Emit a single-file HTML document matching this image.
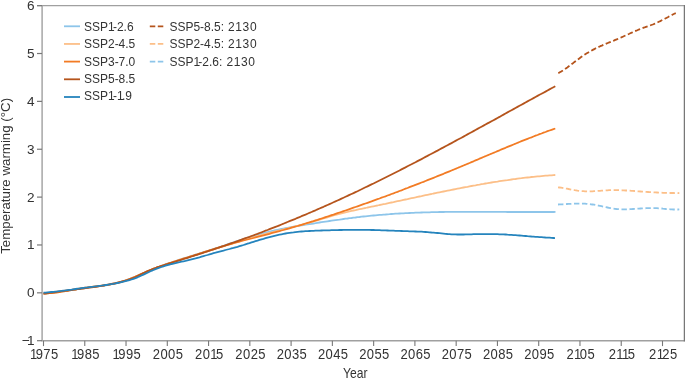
<!DOCTYPE html>
<html><head><meta charset="utf-8"><style>
html,body{margin:0;padding:0;background:#fff;width:685px;height:378px;overflow:hidden}
svg{display:block}
.t{font-family:"Liberation Sans",Arial,sans-serif;font-size:13px;fill:#333333}
.yt{font-family:"Liberation Sans",Arial,sans-serif;font-size:13.6px;fill:#333333}
.a{font-family:"Liberation Sans",Arial,sans-serif;font-size:13.3px;fill:#333333}
.l{font-family:"Liberation Sans",Arial,sans-serif;font-size:12px;fill:#333333}
</style></head><body>
<svg width="685" height="378" viewBox="0 0 685 378">
<path d="M37,5.65H684.5M684.5,340.7H42.1V5.65" fill="none" stroke="#a0a0a0" stroke-width="1.4"/>
<line x1="684.4" x2="684.4" y1="5" y2="341.4" stroke="#777" stroke-width="1.3"/>
<line x1="37" x2="42" y1="340.70" y2="340.70" stroke="#787878" stroke-width="1.2"/>
<text x="34.6" y="345.15" text-anchor="end" class="yt" dx="0 -3">−1</text>
<line x1="37" x2="42" y1="292.83" y2="292.83" stroke="#787878" stroke-width="1.2"/>
<text x="34.6" y="297.28" text-anchor="end" class="yt">0</text>
<line x1="37" x2="42" y1="244.97" y2="244.97" stroke="#787878" stroke-width="1.2"/>
<text x="34.6" y="249.42" text-anchor="end" class="yt">1</text>
<line x1="37" x2="42" y1="197.11" y2="197.11" stroke="#787878" stroke-width="1.2"/>
<text x="34.6" y="201.56" text-anchor="end" class="yt">2</text>
<line x1="37" x2="42" y1="149.24" y2="149.24" stroke="#787878" stroke-width="1.2"/>
<text x="34.6" y="153.69" text-anchor="end" class="yt">3</text>
<line x1="37" x2="42" y1="101.38" y2="101.38" stroke="#787878" stroke-width="1.2"/>
<text x="34.6" y="105.83" text-anchor="end" class="yt">4</text>
<line x1="37" x2="42" y1="53.51" y2="53.51" stroke="#787878" stroke-width="1.2"/>
<text x="34.6" y="57.96" text-anchor="end" class="yt">5</text>
<line x1="37" x2="42" y1="5.65" y2="5.65" stroke="#787878" stroke-width="1.2"/>
<text x="34.6" y="10.10" text-anchor="end" class="yt">6</text>
<line x1="43.50" x2="43.50" y1="340.8" y2="346.1" stroke="#787878" stroke-width="1.1"/>
<text transform="translate(44.10,358.5) scale(1,1.06)" text-anchor="middle" class="t" dx="0 -1.5 0.4 0.4">1975</text>
<line x1="84.77" x2="84.77" y1="340.8" y2="346.1" stroke="#787878" stroke-width="1.1"/>
<text transform="translate(85.37,358.5) scale(1,1.06)" text-anchor="middle" class="t" dx="0 -1.5 0.4 0.4">1985</text>
<line x1="126.03" x2="126.03" y1="340.8" y2="346.1" stroke="#787878" stroke-width="1.1"/>
<text transform="translate(126.63,358.5) scale(1,1.06)" text-anchor="middle" class="t" dx="0 -1.5 0.4 0.4">1995</text>
<line x1="167.30" x2="167.30" y1="340.8" y2="346.1" stroke="#787878" stroke-width="1.1"/>
<text transform="translate(167.90,358.5) scale(1,1.06)" text-anchor="middle" class="t" dx="0 0.4 0.4 0.4">2005</text>
<line x1="208.57" x2="208.57" y1="340.8" y2="346.1" stroke="#787878" stroke-width="1.1"/>
<text transform="translate(209.17,358.5) scale(1,1.06)" text-anchor="middle" class="t" dx="0 0.4 0.4 -1.5">2015</text>
<line x1="249.83" x2="249.83" y1="340.8" y2="346.1" stroke="#787878" stroke-width="1.1"/>
<text transform="translate(250.43,358.5) scale(1,1.06)" text-anchor="middle" class="t" dx="0 0.4 0.4 0.4">2025</text>
<line x1="291.10" x2="291.10" y1="340.8" y2="346.1" stroke="#787878" stroke-width="1.1"/>
<text transform="translate(291.70,358.5) scale(1,1.06)" text-anchor="middle" class="t" dx="0 0.4 0.4 0.4">2035</text>
<line x1="332.37" x2="332.37" y1="340.8" y2="346.1" stroke="#787878" stroke-width="1.1"/>
<text transform="translate(332.97,358.5) scale(1,1.06)" text-anchor="middle" class="t" dx="0 0.4 0.4 0.4">2045</text>
<line x1="373.64" x2="373.64" y1="340.8" y2="346.1" stroke="#787878" stroke-width="1.1"/>
<text transform="translate(374.24,358.5) scale(1,1.06)" text-anchor="middle" class="t" dx="0 0.4 0.4 0.4">2055</text>
<line x1="414.90" x2="414.90" y1="340.8" y2="346.1" stroke="#787878" stroke-width="1.1"/>
<text transform="translate(415.50,358.5) scale(1,1.06)" text-anchor="middle" class="t" dx="0 0.4 0.4 0.4">2065</text>
<line x1="456.17" x2="456.17" y1="340.8" y2="346.1" stroke="#787878" stroke-width="1.1"/>
<text transform="translate(456.77,358.5) scale(1,1.06)" text-anchor="middle" class="t" dx="0 0.4 0.4 0.4">2075</text>
<line x1="497.44" x2="497.44" y1="340.8" y2="346.1" stroke="#787878" stroke-width="1.1"/>
<text transform="translate(498.04,358.5) scale(1,1.06)" text-anchor="middle" class="t" dx="0 0.4 0.4 0.4">2085</text>
<line x1="538.70" x2="538.70" y1="340.8" y2="346.1" stroke="#787878" stroke-width="1.1"/>
<text transform="translate(539.30,358.5) scale(1,1.06)" text-anchor="middle" class="t" dx="0 0.4 0.4 0.4">2095</text>
<line x1="579.97" x2="579.97" y1="340.8" y2="346.1" stroke="#787878" stroke-width="1.1"/>
<text transform="translate(580.57,358.5) scale(1,1.06)" text-anchor="middle" class="t" dx="0 0.4 -1.5 0.4">2105</text>
<line x1="621.24" x2="621.24" y1="340.8" y2="346.1" stroke="#787878" stroke-width="1.1"/>
<text transform="translate(621.84,358.5) scale(1,1.06)" text-anchor="middle" class="t" dx="0 0.4 -0.455 -1.5">2115</text>
<line x1="662.50" x2="662.50" y1="340.8" y2="346.1" stroke="#787878" stroke-width="1.1"/>
<text transform="translate(663.10,358.5) scale(1,1.06)" text-anchor="middle" class="t" dx="0 0.4 -1.5 0.4">2125</text>
<text transform="translate(355.3,378.1) scale(1,1.08)" text-anchor="middle" class="a" textLength="24.5" lengthAdjust="spacingAndGlyphs">Year</text>
<text transform="translate(9.9,175.9) rotate(-90)" text-anchor="middle" class="a" textLength="155.9" lengthAdjust="spacingAndGlyphs">Temperature warming (°C)</text>
<polyline points="43.5,293.6 45.5,293.5 47.5,293.3 49.5,293.1 51.5,292.8 53.5,292.6 55.5,292.4 57.5,292.1 59.5,291.8 61.5,291.5 63.5,291.2 65.5,290.9 67.5,290.6 69.5,290.3 71.5,290.0 73.5,289.7 75.5,289.4 77.5,289.1 79.5,288.8 81.5,288.5 83.5,288.2 85.5,287.9 87.5,287.7 89.5,287.4 91.5,287.2 93.5,286.9 95.5,286.7 97.5,286.4 99.5,286.2 101.5,285.9 103.5,285.6 105.5,285.3 107.5,285.0 109.5,284.6 111.5,284.2 113.5,283.8 115.5,283.4 117.5,282.9 119.5,282.3 121.5,281.7 123.5,281.1 125.5,280.4 127.5,279.7 129.5,279.0 131.5,278.2 133.5,277.4 135.5,276.6 137.5,275.7 139.5,274.9 141.5,274.0 143.5,273.2 145.5,272.3 147.5,271.5 149.5,270.6 151.5,269.8 153.5,269.0 155.5,268.2 157.5,267.4 159.5,266.6 161.5,265.9 163.5,265.1 165.5,264.4 167.5,263.7 169.5,263.0 171.5,262.3 173.5,261.7 175.5,261.0 177.5,260.4 179.5,259.7 181.5,259.1 183.5,258.4 185.5,257.8 187.5,257.2 189.5,256.6 191.5,255.9 193.5,255.3 195.5,254.7 197.5,254.1 199.5,253.5 201.5,252.9 203.5,252.2 205.5,251.6 207.5,251.0 209.5,250.4 211.5,249.7 213.5,249.1 215.5,248.4 217.5,247.8 219.5,247.1 221.5,246.4 223.5,245.8 225.5,245.1 227.5,244.4 229.5,243.7 231.5,243.0 233.5,242.4 235.5,241.7 237.5,241.0 239.5,240.3 241.5,239.7 243.5,239.0 245.5,238.4 247.5,237.7 249.5,237.1 251.5,236.5 253.5,235.9 255.5,235.3 257.5,234.7 259.5,234.2 261.5,233.6 263.5,233.1 265.5,232.6 267.5,232.1 269.5,231.6 271.5,231.1 273.5,230.7 275.5,230.2 277.5,229.8 279.5,229.4 281.5,229.0 283.5,228.6 285.5,228.2 287.5,227.8 289.5,227.5 291.5,227.1 293.5,226.7 295.5,226.4 297.5,226.1 299.5,225.7 301.5,225.4 303.5,225.1 305.5,224.7 307.5,224.4 309.5,224.1 311.5,223.8 313.5,223.5 315.5,223.2 317.5,222.8 319.5,222.5 321.5,222.2 323.5,221.9 325.5,221.6 327.5,221.3 329.5,221.0 331.5,220.7 333.5,220.4 335.5,220.1 337.5,219.8 339.5,219.6 341.5,219.3 343.5,219.0 345.5,218.7 347.5,218.5 349.5,218.2 351.5,218.0 353.5,217.7 355.5,217.5 357.5,217.2 359.5,217.0 361.5,216.7 363.5,216.5 365.5,216.3 367.5,216.1 369.5,215.9 371.5,215.7 373.5,215.5 375.5,215.3 377.5,215.1 379.5,214.9 381.5,214.8 383.5,214.6 385.5,214.5 387.5,214.3 389.5,214.2 391.5,214.0 393.5,213.9 395.5,213.7 397.5,213.6 399.5,213.5 401.5,213.4 403.5,213.3 405.5,213.2 407.5,213.1 409.5,213.0 411.5,212.9 413.5,212.8 415.5,212.7 417.5,212.6 419.5,212.6 421.5,212.5 423.5,212.4 425.5,212.4 427.5,212.3 429.5,212.3 431.5,212.2 433.5,212.2 435.5,212.1 437.5,212.1 439.5,212.0 441.5,212.0 443.5,212.0 445.5,211.9 447.5,211.9 449.5,211.9 451.5,211.9 453.5,211.9 455.5,211.8 457.5,211.8 459.5,211.8 461.5,211.8 463.5,211.8 465.5,211.8 467.5,211.8 469.5,211.8 471.5,211.8 473.5,211.8 475.5,211.8 477.5,211.8 479.5,211.8 481.5,211.8 483.5,211.8 485.5,211.8 487.5,211.8 489.5,211.8 491.5,211.9 493.5,211.9 495.5,211.9 497.5,211.9 499.5,211.9 501.5,211.9 503.5,211.9 505.5,211.9 507.5,212.0 509.5,212.0 511.5,212.0 513.5,212.0 515.5,212.0 517.5,212.0 519.5,212.0 521.5,212.0 523.5,212.0 525.5,212.0 527.5,212.0 529.5,212.0 531.5,212.0 533.5,212.0 535.5,212.0 537.5,212.0 539.5,212.0 541.5,212.0 543.5,212.0 545.5,212.0 547.5,212.0 549.5,212.0 551.5,212.0 553.5,212.0 555.5,211.9" fill="none" stroke="#8dc5ea" stroke-width="1.8" stroke-linejoin="round"/>
<polyline points="43.5,293.6 45.5,293.5 47.5,293.4 49.5,293.2 51.5,293.0 53.5,292.8 55.5,292.6 57.5,292.3 59.5,292.0 61.5,291.7 63.5,291.4 65.5,291.1 67.5,290.7 69.5,290.4 71.5,290.1 73.5,289.7 75.5,289.4 77.5,289.0 79.5,288.7 81.5,288.4 83.5,288.0 85.5,287.8 87.5,287.5 89.5,287.2 91.5,287.0 93.5,286.7 95.5,286.5 97.5,286.3 99.5,286.0 101.5,285.8 103.5,285.5 105.5,285.2 107.5,284.9 109.5,284.6 111.5,284.2 113.5,283.8 115.5,283.4 117.5,282.9 119.5,282.4 121.5,281.8 123.5,281.2 125.5,280.5 127.5,279.8 129.5,279.0 131.5,278.2 133.5,277.4 135.5,276.6 137.5,275.8 139.5,274.9 141.5,274.0 143.5,273.2 145.5,272.3 147.5,271.4 149.5,270.6 151.5,269.8 153.5,268.9 155.5,268.2 157.5,267.4 159.5,266.7 161.5,265.9 163.5,265.2 165.5,264.5 167.5,263.8 169.5,263.1 171.5,262.5 173.5,261.8 175.5,261.2 177.5,260.5 179.5,259.9 181.5,259.2 183.5,258.6 185.5,258.0 187.5,257.3 189.5,256.7 191.5,256.1 193.5,255.5 195.5,254.9 197.5,254.3 199.5,253.6 201.5,253.0 203.5,252.4 205.5,251.8 207.5,251.2 209.5,250.6 211.5,250.0 213.5,249.4 215.5,248.8 217.5,248.1 219.5,247.5 221.5,246.9 223.5,246.3 225.5,245.6 227.5,245.0 229.5,244.4 231.5,243.8 233.5,243.1 235.5,242.5 237.5,241.9 239.5,241.3 241.5,240.7 243.5,240.1 245.5,239.5 247.5,238.9 249.5,238.3 251.5,237.7 253.5,237.1 255.5,236.6 257.5,236.0 259.5,235.5 261.5,234.9 263.5,234.4 265.5,233.9 267.5,233.3 269.5,232.8 271.5,232.3 273.5,231.8 275.5,231.3 277.5,230.8 279.5,230.3 281.5,229.9 283.5,229.4 285.5,228.9 287.5,228.4 289.5,227.9 291.5,227.4 293.5,226.9 295.5,226.4 297.5,225.9 299.5,225.4 301.5,224.8 303.5,224.3 305.5,223.8 307.5,223.2 309.5,222.7 311.5,222.1 313.5,221.5 315.5,220.9 317.5,220.3 319.5,219.7 321.5,219.1 323.5,218.5 325.5,217.9 327.5,217.3 329.5,216.7 331.5,216.1 333.5,215.5 335.5,215.0 337.5,214.4 339.5,213.9 341.5,213.3 343.5,212.8 345.5,212.3 347.5,211.9 349.5,211.4 351.5,210.9 353.5,210.5 355.5,210.1 357.5,209.6 359.5,209.2 361.5,208.8 363.5,208.4 365.5,208.0 367.5,207.5 369.5,207.1 371.5,206.7 373.5,206.3 375.5,205.9 377.5,205.5 379.5,205.0 381.5,204.6 383.5,204.2 385.5,203.8 387.5,203.3 389.5,202.9 391.5,202.5 393.5,202.1 395.5,201.6 397.5,201.2 399.5,200.8 401.5,200.4 403.5,199.9 405.5,199.5 407.5,199.1 409.5,198.6 411.5,198.2 413.5,197.8 415.5,197.4 417.5,196.9 419.5,196.5 421.5,196.1 423.5,195.6 425.5,195.2 427.5,194.8 429.5,194.4 431.5,194.0 433.5,193.5 435.5,193.1 437.5,192.7 439.5,192.3 441.5,191.9 443.5,191.5 445.5,191.1 447.5,190.7 449.5,190.3 451.5,189.9 453.5,189.5 455.5,189.1 457.5,188.7 459.5,188.3 461.5,187.9 463.5,187.5 465.5,187.1 467.5,186.8 469.5,186.4 471.5,186.0 473.5,185.6 475.5,185.3 477.5,184.9 479.5,184.6 481.5,184.2 483.5,183.9 485.5,183.5 487.5,183.2 489.5,182.8 491.5,182.5 493.5,182.2 495.5,181.9 497.5,181.6 499.5,181.2 501.5,180.9 503.5,180.6 505.5,180.3 507.5,180.1 509.5,179.8 511.5,179.5 513.5,179.2 515.5,179.0 517.5,178.7 519.5,178.4 521.5,178.2 523.5,177.9 525.5,177.7 527.5,177.5 529.5,177.3 531.5,177.0 533.5,176.8 535.5,176.6 537.5,176.4 539.5,176.3 541.5,176.1 543.5,175.9 545.5,175.7 547.5,175.6 549.5,175.4 551.5,175.3 553.5,175.1 555.3,175.0" fill="none" stroke="#fcbf88" stroke-width="1.8" stroke-linejoin="round"/>
<polyline points="43.5,293.6 45.5,293.5 47.5,293.4 49.5,293.2 51.5,293.1 53.5,292.8 55.5,292.6 57.5,292.3 59.5,292.1 61.5,291.7 63.5,291.4 65.5,291.1 67.5,290.8 69.5,290.4 71.5,290.1 73.5,289.7 75.5,289.4 77.5,289.0 79.5,288.7 81.5,288.4 83.5,288.0 85.5,287.7 87.5,287.5 89.5,287.2 91.5,286.9 93.5,286.7 95.5,286.5 97.5,286.2 99.5,286.0 101.5,285.7 103.5,285.5 105.5,285.2 107.5,284.9 109.5,284.6 111.5,284.2 113.5,283.8 115.5,283.4 117.5,282.9 119.5,282.4 121.5,281.8 123.5,281.2 125.5,280.5 127.5,279.8 129.5,279.1 131.5,278.3 133.5,277.5 135.5,276.6 137.5,275.7 139.5,274.8 141.5,273.9 143.5,273.1 145.5,272.2 147.5,271.3 149.5,270.5 151.5,269.7 153.5,268.9 155.5,268.2 157.5,267.4 159.5,266.7 161.5,266.0 163.5,265.3 165.5,264.6 167.5,263.9 169.5,263.2 171.5,262.6 173.5,261.9 175.5,261.3 177.5,260.6 179.5,260.0 181.5,259.4 183.5,258.7 185.5,258.1 187.5,257.5 189.5,256.8 191.5,256.2 193.5,255.6 195.5,254.9 197.5,254.3 199.5,253.6 201.5,253.0 203.5,252.4 205.5,251.7 207.5,251.1 209.5,250.4 211.5,249.8 213.5,249.2 215.5,248.5 217.5,247.9 219.5,247.3 221.5,246.7 223.5,246.1 225.5,245.5 227.5,244.9 229.5,244.3 231.5,243.8 233.5,243.2 235.5,242.6 237.5,242.1 239.5,241.6 241.5,241.0 243.5,240.5 245.5,240.0 247.5,239.5 249.5,239.0 251.5,238.5 253.5,238.0 255.5,237.4 257.5,236.9 259.5,236.4 261.5,235.9 263.5,235.4 265.5,234.8 267.5,234.3 269.5,233.8 271.5,233.2 273.5,232.7 275.5,232.2 277.5,231.6 279.5,231.1 281.5,230.5 283.5,230.0 285.5,229.4 287.5,228.8 289.5,228.3 291.5,227.7 293.5,227.1 295.5,226.5 297.5,226.0 299.5,225.4 301.5,224.8 303.5,224.2 305.5,223.5 307.5,222.9 309.5,222.3 311.5,221.7 313.5,221.1 315.5,220.4 317.5,219.8 319.5,219.1 321.5,218.5 323.5,217.9 325.5,217.2 327.5,216.5 329.5,215.9 331.5,215.2 333.5,214.6 335.5,213.9 337.5,213.2 339.5,212.5 341.5,211.9 343.5,211.2 345.5,210.5 347.5,209.8 349.5,209.1 351.5,208.4 353.5,207.7 355.5,207.0 357.5,206.3 359.5,205.6 361.5,204.9 363.5,204.2 365.5,203.5 367.5,202.8 369.5,202.1 371.5,201.4 373.5,200.6 375.5,199.9 377.5,199.2 379.5,198.5 381.5,197.7 383.5,197.0 385.5,196.3 387.5,195.5 389.5,194.8 391.5,194.0 393.5,193.3 395.5,192.5 397.5,191.8 399.5,191.0 401.5,190.3 403.5,189.5 405.5,188.7 407.5,188.0 409.5,187.2 411.5,186.4 413.5,185.7 415.5,184.9 417.5,184.1 419.5,183.3 421.5,182.5 423.5,181.8 425.5,181.0 427.5,180.2 429.5,179.4 431.5,178.6 433.5,177.8 435.5,177.0 437.5,176.2 439.5,175.4 441.5,174.6 443.5,173.8 445.5,172.9 447.5,172.1 449.5,171.3 451.5,170.5 453.5,169.7 455.5,168.8 457.5,168.0 459.5,167.2 461.5,166.3 463.5,165.5 465.5,164.7 467.5,163.8 469.5,163.0 471.5,162.1 473.5,161.3 475.5,160.4 477.5,159.6 479.5,158.7 481.5,157.9 483.5,157.0 485.5,156.2 487.5,155.3 489.5,154.5 491.5,153.7 493.5,152.8 495.5,152.0 497.5,151.1 499.5,150.3 501.5,149.4 503.5,148.6 505.5,147.8 507.5,146.9 509.5,146.1 511.5,145.3 513.5,144.5 515.5,143.7 517.5,142.8 519.5,142.0 521.5,141.2 523.5,140.4 525.5,139.6 527.5,138.8 529.5,138.0 531.5,137.3 533.5,136.5 535.5,135.7 537.5,135.0 539.5,134.2 541.5,133.5 543.5,132.7 545.5,132.0 547.5,131.2 549.5,130.5 551.5,129.8 553.5,129.1 555.3,128.5" fill="none" stroke="#f27b24" stroke-width="1.8" stroke-linejoin="round"/>
<polyline points="43.5,293.7 45.5,293.4 47.5,293.1 49.5,292.8 51.5,292.5 53.5,292.3 55.5,292.0 57.5,291.7 59.5,291.5 61.5,291.2 63.5,291.0 65.5,290.7 67.5,290.5 69.5,290.2 71.5,290.0 73.5,289.7 75.5,289.5 77.5,289.2 79.5,289.0 81.5,288.7 83.5,288.5 85.5,288.2 87.5,287.9 89.5,287.7 91.5,287.4 93.5,287.1 95.5,286.8 97.5,286.5 99.5,286.1 101.5,285.8 103.5,285.5 105.5,285.1 107.5,284.7 109.5,284.3 111.5,283.9 113.5,283.5 115.5,283.1 117.5,282.6 119.5,282.1 121.5,281.6 123.5,281.1 125.5,280.6 127.5,280.0 129.5,279.3 131.5,278.6 133.5,277.8 135.5,277.0 137.5,276.0 139.5,275.0 141.5,274.0 143.5,273.0 145.5,272.1 147.5,271.1 149.5,270.3 151.5,269.5 153.5,268.7 155.5,268.0 157.5,267.2 159.5,266.6 161.5,265.9 163.5,265.3 165.5,264.6 167.5,264.0 169.5,263.4 171.5,262.8 173.5,262.2 175.5,261.5 177.5,260.9 179.5,260.3 181.5,259.7 183.5,259.0 185.5,258.4 187.5,257.8 189.5,257.1 191.5,256.5 193.5,255.9 195.5,255.2 197.5,254.6 199.5,253.9 201.5,253.3 203.5,252.6 205.5,252.0 207.5,251.3 209.5,250.7 211.5,250.0 213.5,249.4 215.5,248.7 217.5,248.0 219.5,247.3 221.5,246.7 223.5,246.0 225.5,245.3 227.5,244.6 229.5,243.9 231.5,243.2 233.5,242.5 235.5,241.8 237.5,241.1 239.5,240.4 241.5,239.7 243.5,238.9 245.5,238.2 247.5,237.5 249.5,236.8 251.5,236.0 253.5,235.3 255.5,234.5 257.5,233.8 259.5,233.0 261.5,232.3 263.5,231.5 265.5,230.7 267.5,230.0 269.5,229.2 271.5,228.4 273.5,227.6 275.5,226.8 277.5,226.1 279.5,225.3 281.5,224.5 283.5,223.7 285.5,222.8 287.5,222.0 289.5,221.2 291.5,220.4 293.5,219.6 295.5,218.8 297.5,217.9 299.5,217.1 301.5,216.2 303.5,215.4 305.5,214.6 307.5,213.7 309.5,212.8 311.5,212.0 313.5,211.1 315.5,210.3 317.5,209.4 319.5,208.5 321.5,207.6 323.5,206.8 325.5,205.9 327.5,205.0 329.5,204.1 331.5,203.2 333.5,202.3 335.5,201.4 337.5,200.5 339.5,199.6 341.5,198.6 343.5,197.7 345.5,196.8 347.5,195.9 349.5,194.9 351.5,194.0 353.5,193.1 355.5,192.1 357.5,191.2 359.5,190.2 361.5,189.3 363.5,188.3 365.5,187.3 367.5,186.4 369.5,185.4 371.5,184.4 373.5,183.5 375.5,182.5 377.5,181.5 379.5,180.5 381.5,179.5 383.5,178.5 385.5,177.5 387.5,176.5 389.5,175.5 391.5,174.5 393.5,173.5 395.5,172.5 397.5,171.5 399.5,170.5 401.5,169.4 403.5,168.4 405.5,167.4 407.5,166.3 409.5,165.3 411.5,164.3 413.5,163.2 415.5,162.2 417.5,161.1 419.5,160.1 421.5,159.1 423.5,158.0 425.5,156.9 427.5,155.9 429.5,154.8 431.5,153.8 433.5,152.7 435.5,151.6 437.5,150.6 439.5,149.5 441.5,148.4 443.5,147.4 445.5,146.3 447.5,145.2 449.5,144.1 451.5,143.1 453.5,142.0 455.5,140.9 457.5,139.8 459.5,138.7 461.5,137.7 463.5,136.6 465.5,135.5 467.5,134.4 469.5,133.3 471.5,132.2 473.5,131.1 475.5,130.0 477.5,128.9 479.5,127.8 481.5,126.7 483.5,125.6 485.5,124.5 487.5,123.4 489.5,122.4 491.5,121.3 493.5,120.2 495.5,119.1 497.5,118.0 499.5,116.9 501.5,115.7 503.5,114.6 505.5,113.5 507.5,112.4 509.5,111.3 511.5,110.2 513.5,109.1 515.5,108.0 517.5,106.9 519.5,105.8 521.5,104.7 523.5,103.6 525.5,102.5 527.5,101.4 529.5,100.3 531.5,99.2 533.5,98.1 535.5,97.0 537.5,95.9 539.5,94.8 541.5,93.8 543.5,92.7 545.5,91.6 547.5,90.5 549.5,89.4 551.5,88.3 553.5,87.2 555.3,86.2" fill="none" stroke="#b5541c" stroke-width="1.8" stroke-linejoin="round"/>
<polyline points="43.5,292.7 45.5,292.6 47.5,292.4 49.5,292.2 51.5,292.0 53.5,291.8 55.5,291.6 57.5,291.4 59.5,291.1 61.5,290.9 63.5,290.6 65.5,290.4 67.5,290.1 69.5,289.8 71.5,289.6 73.5,289.3 75.5,289.0 77.5,288.7 79.5,288.5 81.5,288.2 83.5,287.9 85.5,287.6 87.5,287.4 89.5,287.1 91.5,286.8 93.5,286.6 95.5,286.3 97.5,286.1 99.5,285.8 101.5,285.6 103.5,285.3 105.5,285.0 107.5,284.8 109.5,284.4 111.5,284.1 113.5,283.8 115.5,283.4 117.5,283.0 119.5,282.6 121.5,282.1 123.5,281.7 125.5,281.2 127.5,280.7 129.5,280.1 131.5,279.5 133.5,278.8 135.5,278.1 137.5,277.3 139.5,276.4 141.5,275.5 143.5,274.6 145.5,273.6 147.5,272.7 149.5,271.7 151.5,270.8 153.5,270.0 155.5,269.1 157.5,268.4 159.5,267.6 161.5,267.0 163.5,266.3 165.5,265.7 167.5,265.1 169.5,264.6 171.5,264.0 173.5,263.6 175.5,263.1 177.5,262.6 179.5,262.2 181.5,261.7 183.5,261.3 185.5,260.9 187.5,260.4 189.5,259.9 191.5,259.4 193.5,258.9 195.5,258.4 197.5,257.8 199.5,257.3 201.5,256.7 203.5,256.1 205.5,255.5 207.5,255.0 209.5,254.4 211.5,253.8 213.5,253.2 215.5,252.7 217.5,252.1 219.5,251.6 221.5,251.1 223.5,250.6 225.5,250.0 227.5,249.5 229.5,249.0 231.5,248.4 233.5,247.9 235.5,247.3 237.5,246.8 239.5,246.2 241.5,245.6 243.5,245.0 245.5,244.3 247.5,243.7 249.5,243.1 251.5,242.4 253.5,241.8 255.5,241.2 257.5,240.6 259.5,239.9 261.5,239.3 263.5,238.8 265.5,238.2 267.5,237.6 269.5,237.1 271.5,236.6 273.5,236.1 275.5,235.6 277.5,235.1 279.5,234.7 281.5,234.3 283.5,233.9 285.5,233.5 287.5,233.2 289.5,232.9 291.5,232.6 293.5,232.4 295.5,232.1 297.5,231.9 299.5,231.7 301.5,231.5 303.5,231.4 305.5,231.2 307.5,231.1 309.5,231.0 311.5,230.9 313.5,230.8 315.5,230.7 317.5,230.6 319.5,230.6 321.5,230.5 323.5,230.4 325.5,230.4 327.5,230.3 329.5,230.3 331.5,230.2 333.5,230.2 335.5,230.1 337.5,230.1 339.5,230.0 341.5,230.0 343.5,229.9 345.5,229.9 347.5,229.9 349.5,229.9 351.5,229.8 353.5,229.8 355.5,229.8 357.5,229.8 359.5,229.8 361.5,229.8 363.5,229.8 365.5,229.9 367.5,229.9 369.5,229.9 371.5,230.0 373.5,230.0 375.5,230.1 377.5,230.1 379.5,230.2 381.5,230.3 383.5,230.3 385.5,230.4 387.5,230.5 389.5,230.6 391.5,230.6 393.5,230.7 395.5,230.8 397.5,230.9 399.5,230.9 401.5,231.0 403.5,231.1 405.5,231.1 407.5,231.2 409.5,231.3 411.5,231.3 413.5,231.4 415.5,231.5 417.5,231.6 419.5,231.6 421.5,231.7 423.5,231.9 425.5,232.0 427.5,232.1 429.5,232.3 431.5,232.5 433.5,232.6 435.5,232.8 437.5,233.0 439.5,233.2 441.5,233.4 443.5,233.6 445.5,233.8 447.5,234.0 449.5,234.1 451.5,234.3 453.5,234.4 455.5,234.4 457.5,234.5 459.5,234.5 461.5,234.5 463.5,234.5 465.5,234.4 467.5,234.4 469.5,234.3 471.5,234.3 473.5,234.2 475.5,234.2 477.5,234.2 479.5,234.1 481.5,234.1 483.5,234.1 485.5,234.1 487.5,234.1 489.5,234.1 491.5,234.1 493.5,234.1 495.5,234.1 497.5,234.2 499.5,234.3 501.5,234.3 503.5,234.4 505.5,234.5 507.5,234.7 509.5,234.8 511.5,234.9 513.5,235.1 515.5,235.2 517.5,235.4 519.5,235.5 521.5,235.7 523.5,235.9 525.5,236.0 527.5,236.2 529.5,236.3 531.5,236.5 533.5,236.6 535.5,236.8 537.5,236.9 539.5,237.1 541.5,237.2 543.5,237.3 545.5,237.5 547.5,237.6 549.5,237.7 551.5,237.9 553.5,238.0 555.0,238.1" fill="none" stroke="#2584bd" stroke-width="1.8" stroke-linejoin="round"/>
<polyline points="558.3,73.2 559.8,72.3 561.3,71.4 562.8,70.5 564.3,69.5 565.8,68.4 567.3,67.4 568.8,66.3 570.3,65.1 571.8,64.0 573.3,62.9 574.8,61.7 576.3,60.6 577.8,59.5 579.3,58.4 580.8,57.3 582.3,56.2 583.8,55.2 585.3,54.2 586.8,53.3 588.3,52.4 589.8,51.5 591.3,50.7 592.8,49.9 594.3,49.1 595.8,48.3 597.3,47.6 598.8,46.9 600.3,46.2 601.8,45.6 603.3,44.9 604.8,44.3 606.3,43.6 607.8,43.0 609.3,42.4 610.8,41.8 612.3,41.2 613.8,40.6 615.3,39.9 616.8,39.3 618.3,38.7 619.8,38.0 621.3,37.4 622.8,36.7 624.3,36.0 625.8,35.3 627.3,34.6 628.8,34.0 630.3,33.3 631.8,32.6 633.3,32.0 634.8,31.3 636.3,30.7 637.8,30.0 639.3,29.4 640.8,28.8 642.3,28.3 643.8,27.7 645.3,27.2 646.8,26.6 648.3,26.1 649.8,25.6 651.3,25.0 652.8,24.5 654.3,23.9 655.8,23.2 657.3,22.6 658.8,21.8 660.3,21.1 661.8,20.3 663.3,19.6 664.8,18.8 666.3,18.0 667.8,17.2 669.3,16.3 670.8,15.6 672.3,14.8 673.8,14.0 675.3,13.3 675.8,13.1" fill="none" stroke="#b5541c" stroke-width="1.8" stroke-dasharray="5.4 2.6" stroke-linejoin="round"/>
<polyline points="558.0,187.3 559.5,187.5 561.0,187.7 562.5,187.9 564.0,188.2 565.5,188.5 567.0,188.7 568.5,189.0 570.0,189.3 571.5,189.6 573.0,189.8 574.5,190.1 576.0,190.3 577.5,190.6 579.0,190.8 580.5,191.0 582.0,191.1 583.5,191.2 585.0,191.3 586.5,191.4 588.0,191.4 589.5,191.4 591.0,191.3 592.5,191.3 594.0,191.2 595.5,191.1 597.0,191.0 598.5,190.9 600.0,190.8 601.5,190.7 603.0,190.6 604.5,190.5 606.0,190.4 607.5,190.3 609.0,190.2 610.5,190.2 612.0,190.1 613.5,190.1 615.0,190.1 616.5,190.1 618.0,190.2 619.5,190.2 621.0,190.2 622.5,190.3 624.0,190.4 625.5,190.5 627.0,190.5 628.5,190.6 630.0,190.7 631.5,190.8 633.0,190.9 634.5,191.0 636.0,191.1 637.5,191.3 639.0,191.4 640.5,191.5 642.0,191.6 643.5,191.7 645.0,191.8 646.5,191.9 648.0,192.0 649.5,192.1 651.0,192.2 652.5,192.3 654.0,192.4 655.5,192.4 657.0,192.5 658.5,192.6 660.0,192.7 661.5,192.7 663.0,192.8 664.5,192.8 666.0,192.9 667.5,192.9 669.0,193.0 670.5,193.0 672.0,193.0 673.5,193.0 675.0,193.1 676.5,193.1 678.0,193.1 679.3,193.0" fill="none" stroke="#fcbf88" stroke-width="1.8" stroke-dasharray="5.4 2.6" stroke-linejoin="round"/>
<polyline points="558.0,204.5 559.5,204.4 561.0,204.3 562.5,204.3 564.0,204.2 565.5,204.1 567.0,204.0 568.5,203.9 570.0,203.9 571.5,203.8 573.0,203.7 574.5,203.7 576.0,203.6 577.5,203.6 579.0,203.6 580.5,203.6 582.0,203.6 583.5,203.7 585.0,203.7 586.5,203.8 588.0,204.0 589.5,204.1 591.0,204.3 592.5,204.5 594.0,204.7 595.5,205.0 597.0,205.3 598.5,205.6 600.0,205.9 601.5,206.2 603.0,206.6 604.5,206.9 606.0,207.2 607.5,207.5 609.0,207.8 610.5,208.1 612.0,208.4 613.5,208.6 615.0,208.8 616.5,209.0 618.0,209.1 619.5,209.2 621.0,209.3 622.5,209.3 624.0,209.4 625.5,209.3 627.0,209.3 628.5,209.3 630.0,209.2 631.5,209.1 633.0,209.0 634.5,208.9 636.0,208.8 637.5,208.7 639.0,208.6 640.5,208.5 642.0,208.4 643.5,208.3 645.0,208.3 646.5,208.2 648.0,208.1 649.5,208.1 651.0,208.1 652.5,208.1 654.0,208.1 655.5,208.1 657.0,208.2 658.5,208.3 660.0,208.4 661.5,208.5 663.0,208.7 664.5,208.8 666.0,209.0 667.5,209.1 669.0,209.2 670.5,209.3 672.0,209.4 673.5,209.5 675.0,209.5 676.5,209.5 678.0,209.5 679.3,209.4" fill="none" stroke="#8dc5ea" stroke-width="1.8" stroke-dasharray="5.4 2.6" stroke-linejoin="round"/>
<line x1="64" x2="80" y1="26.3" y2="26.3" stroke="#8dc5ea" stroke-width="1.8"/>
<text transform="translate(84,31.00) scale(1,1.08)" class="l" dx="0 0 0 0 -1.7 0 0 0">SSP1-2.6</text>
<line x1="64" x2="80" y1="43.95" y2="43.95" stroke="#fcbf88" stroke-width="1.8"/>
<text transform="translate(84,48.35) scale(1,1.08)" class="l">SSP2-4.5</text>
<line x1="64" x2="80" y1="61.6" y2="61.6" stroke="#f27b24" stroke-width="1.8"/>
<text transform="translate(84,65.65) scale(1,1.08)" class="l">SSP3-7.0</text>
<line x1="64" x2="80" y1="79.3" y2="79.3" stroke="#b5541c" stroke-width="1.8"/>
<text transform="translate(84,83.00) scale(1,1.08)" class="l">SSP5-8.5</text>
<line x1="64" x2="80" y1="97.0" y2="97.0" stroke="#2584bd" stroke-width="1.8"/>
<text transform="translate(84,100.30) scale(1,1.08)" class="l" dx="0 0 0 0 -1.7 0 -1.7 0">SSP1-1.9</text>
<line x1="149.8" x2="163.5" y1="26.3" y2="26.3" stroke="#b5541c" stroke-width="1.8" stroke-dasharray="5.5 2.5"/>
<text transform="translate(169.4,31.00) scale(1,1.08)" class="l" dx="0 0 0 0 0 0 0 0 0 0.4 0.3 0.6 0.6 0.6">SSP5-8.5: 2130</text>
<line x1="149.8" x2="163.5" y1="43.95" y2="43.95" stroke="#fcbf88" stroke-width="1.8" stroke-dasharray="5.5 2.5"/>
<text transform="translate(169.4,48.35) scale(1,1.08)" class="l" dx="0 0 0 0 0 0 0 0 0 0.4 0.3 0.6 0.6 0.6">SSP2-4.5: 2130</text>
<line x1="149.8" x2="163.5" y1="61.6" y2="61.6" stroke="#8dc5ea" stroke-width="1.8" stroke-dasharray="5.5 2.5"/>
<text transform="translate(169.4,65.65) scale(1,1.08)" class="l" dx="0 0 0 0 -1.7 0 0 0 0 0.4 0.3 0.6 0.6 0.6">SSP1-2.6: 2130</text>
</svg>
</body></html>
